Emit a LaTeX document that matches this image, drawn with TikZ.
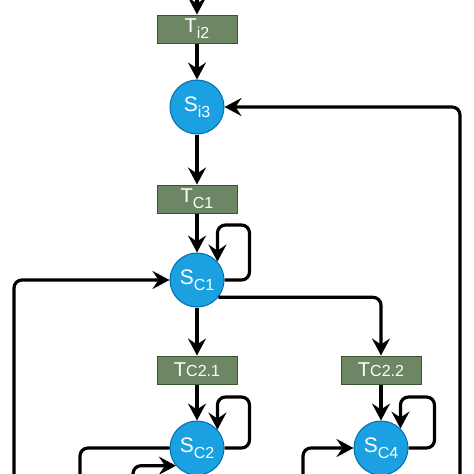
\documentclass[tikz,border=0pt]{standalone}
\usepackage{fontspec}
\setmainfont{Liberation Sans}
\usetikzlibrary{arrows.meta}
\definecolor{trfill}{HTML}{6D8764}
\definecolor{trdraw}{HTML}{3A5431}
\definecolor{plfill}{HTML}{1BA1E2}
\definecolor{pldraw}{HTML}{006EAF}
\newcommand{\plab}[2]{#1\raisebox{-6pt}{\fontsize{16pt}{16pt}\selectfont #2}}
\newcommand{\tlab}[2]{#1{\fontsize{16pt}{16pt}\selectfont #2}}
\begin{document}
\begin{tikzpicture}[x=1pt,y=-1pt,
  place/.style={circle, draw=pldraw, line width=1pt, fill=plfill, minimum size=54pt, inner sep=0pt, text=white, font=\fontsize{21pt}{21pt}\selectfont},
  trans/.style={rectangle, draw=trdraw, line width=1pt, fill=trfill, minimum width=80pt, minimum height=28pt, inner sep=0pt, text=white, font=\fontsize{20pt}{20pt}\selectfont},
  arc/.style={line width=3.2pt, rounded corners=8pt, -{Stealth[length=17pt,width=18pt,inset=6pt]}},
  wire/.style={line width=3.2pt, rounded corners=8pt}]
\clip (0,0) rectangle (474,474);
\node[trans] (ti2) at (197,29){\plab{T}{i2}};
\node[place] (si3) at (197,107){\plab{S}{i3}};
\node[trans] (tc1) at (197,199){\plab{T}{C1}};
\node[place] (sc1) at (197,280){\plab{S}{C1}};
\node[trans] (tc21) at (197,370){\tlab{T}{C2.1}};
\node[trans] (tc22) at (381,370){\tlab{T}{C2.2}};
\node[place] (sc2) at (197,448){\plab{S}{C2}};
\node[place] (sc4) at (381,448){\plab{S}{C4}};
\coordinate (intop) at (197,-2);
\coordinate (fbleft) at (14,480);
\coordinate (fbright) at (460,480);
\coordinate (sc2out) at (80,480);
\coordinate (sc2in) at (133,480);
\coordinate (sc4in) at (303,480);
\draw[arc](intop) -- (ti2);
\draw[arc](ti2) -- (si3);
\draw[arc](si3) -- (tc1);
\draw[arc](tc1) -- (sc1);
\draw[arc](sc1.east) -- ++(25,0) -- ++(0,-55) -| (sc1.42);
\draw[arc](fbleft) |- (sc1.west);
\draw[arc](fbright) |- (si3.east);
\draw[arc](sc1.-39) -| (tc22.north);
\draw[arc](sc1) -- (tc21);
\draw[arc](tc21) -- (sc2);
\draw[arc](tc22) -- (sc4);
\draw[arc](sc2.east) -- ++(25,0) -- ++(0,-51) -| (sc2.42);
\draw[arc](sc4.east) -- ++(26,0) -- ++(0,-51) -| (sc4.45);
\draw[wire](sc2.west) -| (sc2out);
\draw[arc](sc2in) |- (sc2.-140);
\draw[arc](sc4in) |- (sc4.west);
\end{tikzpicture}
\end{document}
